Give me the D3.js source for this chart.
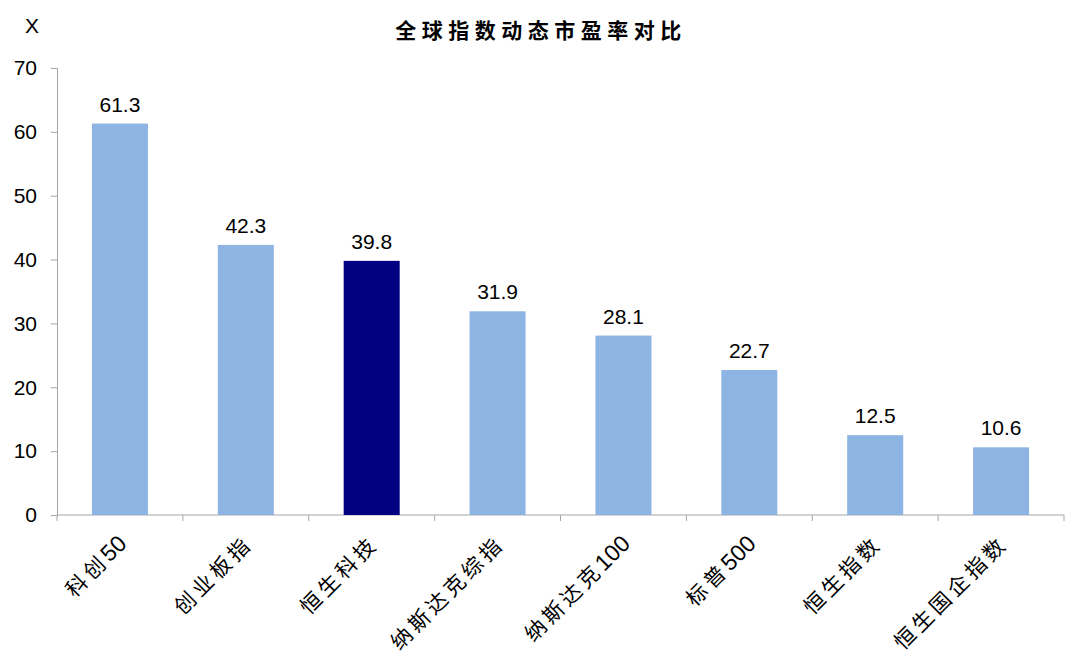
<!DOCTYPE html>
<html>
<head>
<meta charset="utf-8">
<script src="https://cdn.jsdelivr.net/npm/d3@7"></script>
<style>
  body { margin: 0; background: #fff; }
  text { font-family: "Liberation Sans", Arial, sans-serif; fill: #000; }
  .cjk { font-family: "Noto Sans CJK SC", sans-serif; }
</style>
</head>
<body>
<div id="chart"></div>
<script>
width = 1080
height = 662

let categories = ["科创50", "创业板指", "恒生科技", "纳斯达克综指", "纳斯达克100", "标普500", "恒生指数", "恒生国企指数"]
let peValues = [61.3, 42.3, 39.8, 31.9, 28.1, 22.7, 12.5, 10.6]
let highlight = "恒生科技"
let yTicks = [0, 10, 20, 30, 40, 50, 60, 70]

let svg = d3.select("#chart")
    .append("svg")
    .attr("width", width)
    .attr("height", height)

let x = d3.scaleBand()
    .domain(categories)
    .range([57, 1064])
    .paddingInner(0.555)
    .paddingOuter(0.2775)

let y = d3.scaleLinear()
    .domain([0, 70])
    .range([515, 68])

// title + unit
svg.append("text")
    .attr("class", "cjk")
    .attr("x", 541)
    .attr("y", 38)
    .attr("text-anchor", "middle")
    .style("font-size", "21px")
    .style("font-weight", "bold")
    .style("letter-spacing", "5.5px")
    .text("全球指数动态市盈率对比")

svg.append("text")
    .attr("x", 32)
    .attr("y", 33)
    .attr("text-anchor", "middle")
    .style("font-size", "21px")
    .text("X")

// y axis
let yAxis = svg.append("g")
    .attr("transform", "translate(57,0)")
    .call(d3.axisLeft(y).tickValues(yTicks).tickSize(6).tickPadding(14))
yAxis.select(".domain").attr("stroke", "#a6a6a6")
yAxis.selectAll(".tick line").attr("stroke", "#a6a6a6")
yAxis.selectAll(".tick text")
    .style("font-size", "21px")
    .attr("fill", "#000")

// x axis line + ticks at band boundaries
let xg = svg.append("g")
xg.append("line")
    .attr("x1", 57).attr("x2", 1064)
    .attr("y1", y(0)).attr("y2", y(0))
    .attr("stroke", "#a6a6a6")
let step = x.step()
d3.range(categories.length + 1).forEach(i => {
    let px = x(categories[0]) - x.step() * x.paddingOuter() + i * step
    xg.append("line")
        .attr("x1", px).attr("x2", px)
        .attr("y1", y(0)).attr("y2", y(0) + 6)
        .attr("stroke", "#a6a6a6")
})

// bars
svg.append("g")
    .selectAll("rect")
    .data(categories)
    .join("rect")
    .attr("x", d => x(d))
    .attr("width", x.bandwidth())
    .attr("y", (d, i) => y(peValues[i]))
    .attr("height", (d, i) => y(0) - y(peValues[i]))
    .attr("fill", d => d == highlight ? "#000080" : "#8eb4e3")

// value labels
svg.append("g")
    .selectAll("text")
    .data(categories)
    .join("text")
    .attr("x", d => x(d) + x.bandwidth() / 2)
    .attr("y", (d, i) => y(peValues[i]) - 12)
    .attr("text-anchor", "middle")
    .style("font-size", "21px")
    .text((d, i) => peValues[i].toFixed(1))

// category labels (digits set in latin font, no spacing)
let catLabels = svg.append("g")
    .selectAll("text")
    .data(categories)
    .join("text")
    .attr("text-anchor", "end")
    .attr("transform", d => "translate(" + (x(d) + x.bandwidth() / 2 + 8) + "," + (y(0) + 30) + ") rotate(-45)")

catLabels.each(function (d) {
    let m = d.match(/^(\D*)(\d*)$/)
    let t = d3.select(this)
    t.append("tspan")
        .attr("class", "cjk")
        .style("font-size", "21px")
        .style("letter-spacing", "4px")
        .text(m[1])
    if (m[2]) {
        t.append("tspan")
            .style("font-size", "23px")
            .text(m[2])
    }
})
</script>
</body>
</html>
